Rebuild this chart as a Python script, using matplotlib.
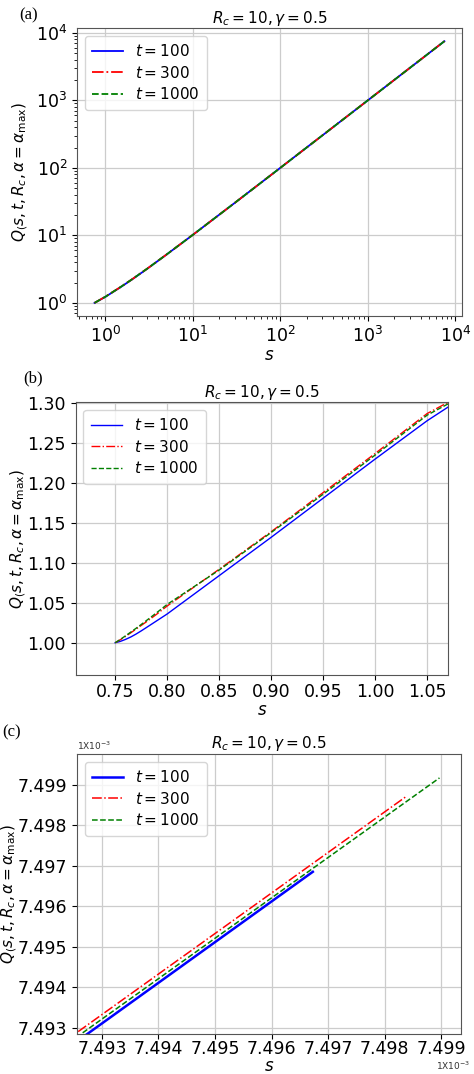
import numpy as np
import matplotlib
matplotlib.use('Agg')
from matplotlib import pyplot as plt

# panel (a): log-log, the three curves coincide
s_a = [0.75, 1.0, 1.5, 2.0, 3.0, 5.0, 10.0, 30.0, 100.0, 300.0, 1000.0, 3000.0, 7500.0]
q_a_100 = [1.0, 1.23, 1.72, 2.21, 3.2, 5.2, 10.2, 30.2, 100.2, 300.2, 1000.0, 3000.0, 7500.0]
q_a_300 = [1.0, 1.237, 1.73, 2.22, 3.21, 5.21, 10.2, 30.2, 100.2, 300.2, 1000.0, 3000.0, 7500.0]
q_a_1000 = [1.0, 1.235, 1.73, 2.22, 3.21, 5.21, 10.2, 30.2, 100.2, 300.2, 1000.0, 3000.0, 7500.0]

# panel (b): zoom near s = 0.75 .. 1.07
s_b = [0.75, 0.755, 0.76, 0.765, 0.77, 0.775, 0.78, 0.79, 0.80, 0.85, 0.90, 0.95, 1.00, 1.05, 1.07, 1.10]
q_b_100 = [1.0, 1.0017, 1.0042, 1.0072, 1.0108, 1.0148, 1.019, 1.0275, 1.036, 1.084, 1.132, 1.181, 1.230, 1.278, 1.295, 1.323]
q_b_300 = [1.0, 1.0038, 1.0080, 1.0124, 1.0170, 1.0216, 1.0262, 1.0358, 1.046, 1.092, 1.139, 1.188, 1.237, 1.287, 1.301, 1.329]
q_b_1000 = [1.0, 1.0042, 1.0087, 1.0133, 1.0180, 1.0228, 1.0277, 1.0377, 1.048, 1.091, 1.138, 1.186, 1.235, 1.285, 1.299, 1.327]

# panel (c): zoom near the upper end (values in units of 1x10^-3)
s_c_100 = [7.49272, 7.49673]
q_c_100 = [7.49282, 7.49685]
s_c_300 = [7.49258, 7.49838]
q_c_300 = [7.49290, 7.49871]
s_c_1000 = [7.49266, 7.49897]
q_c_1000 = [7.49287, 7.49917]

labels = [r'$t = 100$', r'$t = 300$', r'$t = 1000$']
title = r'$R_c = 10, \gamma = 0.5$'
ylab = r'$Q_(s, t, R_c, \alpha = \alpha_{\max})$'

plt.rcParams['font.size'] = 12
plt.rcParams['xtick.labelsize'] = 12.5
plt.rcParams['ytick.labelsize'] = 12.5
plt.rcParams['axes.edgecolor'] = '#555555'

fig = plt.figure(figsize=(4.74, 10.74), dpi=100)

def style(ax, ylab_x, xlab_pad):
    ax.grid(True, color='#cccccc', linewidth=0.9)
    ax.set_axisbelow(True)
    ax.set_title(title, fontsize=11, pad=4)
    ax.set_xlabel(r'$s$', fontsize=12, labelpad=xlab_pad)
    ax.set_ylabel(ylab, fontsize=11)
    ax.yaxis.set_label_coords(ylab_x, 0.5)
    ax.legend(loc='upper left', fontsize=11, handlelength=2.0, handletextpad=0.8,
              borderpad=0.5, labelspacing=0.35)

#PANEL A
ax1 = fig.add_axes([0.1625, 0.7058, 0.812, 0.268])
ax1.loglog(s_a, q_a_100, color='b', linestyle='-', linewidth=1.3, label=labels[0])
ax1.loglog(s_a, q_a_300, color='r', linestyle='-.', linewidth=1.3, label=labels[1])
ax1.loglog(s_a, q_a_1000, color='g', linestyle='--', linewidth=1.3, label=labels[2])
style(ax1, -0.122, 0)
fig.text(0.04, 0.993, '(a)', family='Liberation Serif', fontsize=12, va='top', ha='left')

#PANEL B
ax2 = fig.add_axes([0.160, 0.3715, 0.785, 0.254])
ax2.plot(s_b, q_b_100, color='b', linestyle='-', linewidth=1.0, label=labels[0])
ax2.plot(s_b, q_b_300, color='r', linestyle='-.', linewidth=1.0, label=labels[1])
ax2.plot(s_b, q_b_1000, color='g', linestyle='--', linewidth=1.0, label=labels[2])
ax2.set_xlim(0.7122, 1.07)
ax2.set_ylim(0.9596, 1.3012)
ax2.set_xticks([0.75, 0.80, 0.85, 0.90, 0.95, 1.00, 1.05])
ax2.set_yticks([1.00, 1.05, 1.10, 1.15, 1.20, 1.25, 1.30])
ax2.xaxis.set_major_formatter(matplotlib.ticker.FormatStrFormatter('%.2f'))
ax2.yaxis.set_major_formatter(matplotlib.ticker.FormatStrFormatter('%.2f'))
ax2.tick_params(axis='x', pad=2.5)
style(ax2, -0.129, 0)
fig.text(0.05, 0.648, '(b)', family='Liberation Serif', fontsize=12, va='center', ha='left')

#PANEL C
ax3 = fig.add_axes([0.1625, 0.0372, 0.810, 0.2607])
ax3.plot(s_c_100, q_c_100, color='b', linestyle='-', linewidth=1.8, label=labels[0])
ax3.plot(s_c_300, q_c_300, color='r', linestyle='-.', linewidth=1.1, label=labels[1])
ax3.plot(s_c_1000, q_c_1000, color='g', linestyle='--', linewidth=1.1, label=labels[2])
ax3.set_xlim(7.49256, 7.49935)
ax3.set_ylim(7.49284, 7.49976)
ticks_c = [7.493, 7.494, 7.495, 7.496, 7.497, 7.498, 7.499]
ax3.set_xticks(ticks_c)
ax3.set_yticks(ticks_c)
ax3.xaxis.set_major_formatter(matplotlib.ticker.FormatStrFormatter('%.3f'))
ax3.yaxis.set_major_formatter(matplotlib.ticker.FormatStrFormatter('%.3f'))
ax3.tick_params(axis='x', pad=1)
style(ax3, -0.152, -1)
fig.text(0.005, 0.318, '(c)', family='Liberation Serif', fontsize=12, va='center', ha='left')
fig.text(0.163, 0.306, r'1X10$^{-3}$', fontsize=6.5, ha='left', va='center', color='#333333')
fig.text(0.92, 0.0075, r'1X10$^{-3}$', fontsize=6.5, ha='left', va='center', color='#333333')

fig.savefig('out.png', dpi=100)
